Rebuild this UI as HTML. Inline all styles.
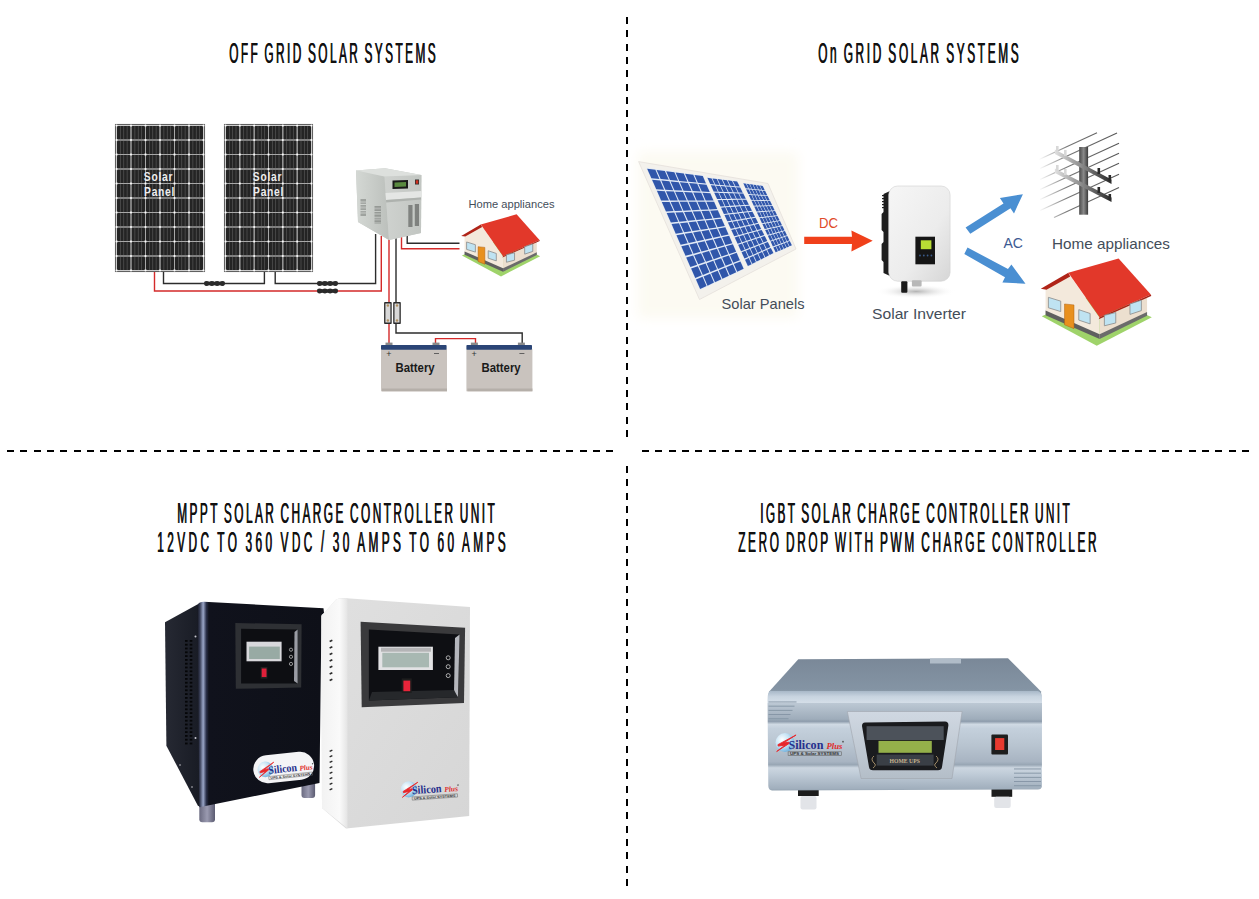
<!DOCTYPE html>
<html><head><meta charset="utf-8">
<style>
html,body{margin:0;padding:0;background:#fff;}
body{width:1259px;height:899px;overflow:hidden;position:relative;font-family:"Liberation Sans",sans-serif;}
svg{position:absolute;left:0;top:0;font-family:"Liberation Sans",sans-serif;}
</style></head><body>
<svg width="1259" height="899" viewBox="0 0 1259 899">
<g fill="#000"><rect x="626" y="17" width="2" height="7"/><rect x="626" y="30" width="2" height="7"/><rect x="626" y="44" width="2" height="7"/><rect x="626" y="57" width="2" height="7"/><rect x="626" y="70" width="2" height="7"/><rect x="626" y="84" width="2" height="7"/><rect x="626" y="97" width="2" height="7"/><rect x="626" y="110" width="2" height="7"/><rect x="626" y="124" width="2" height="7"/><rect x="626" y="137" width="2" height="7"/><rect x="626" y="150" width="2" height="7"/><rect x="626" y="164" width="2" height="7"/><rect x="626" y="177" width="2" height="7"/><rect x="626" y="190" width="2" height="7"/><rect x="626" y="203" width="2" height="7"/><rect x="626" y="217" width="2" height="7"/><rect x="626" y="230" width="2" height="7"/><rect x="626" y="243" width="2" height="7"/><rect x="626" y="257" width="2" height="7"/><rect x="626" y="270" width="2" height="7"/><rect x="626" y="283" width="2" height="7"/><rect x="626" y="297" width="2" height="7"/><rect x="626" y="310" width="2" height="7"/><rect x="626" y="323" width="2" height="7"/><rect x="626" y="337" width="2" height="7"/><rect x="626" y="350" width="2" height="7"/><rect x="626" y="363" width="2" height="7"/><rect x="626" y="377" width="2" height="7"/><rect x="626" y="390" width="2" height="7"/><rect x="626" y="403" width="2" height="7"/><rect x="626" y="417" width="2" height="7"/><rect x="626" y="430" width="2" height="7"/><rect x="626" y="466" width="2" height="7"/><rect x="626" y="479" width="2" height="7"/><rect x="626" y="493" width="2" height="7"/><rect x="626" y="506" width="2" height="7"/><rect x="626" y="519" width="2" height="7"/><rect x="626" y="533" width="2" height="7"/><rect x="626" y="546" width="2" height="7"/><rect x="626" y="559" width="2" height="7"/><rect x="626" y="573" width="2" height="7"/><rect x="626" y="586" width="2" height="7"/><rect x="626" y="599" width="2" height="7"/><rect x="626" y="613" width="2" height="7"/><rect x="626" y="626" width="2" height="7"/><rect x="626" y="639" width="2" height="7"/><rect x="626" y="652" width="2" height="7"/><rect x="626" y="666" width="2" height="7"/><rect x="626" y="679" width="2" height="7"/><rect x="626" y="692" width="2" height="7"/><rect x="626" y="706" width="2" height="7"/><rect x="626" y="719" width="2" height="7"/><rect x="626" y="732" width="2" height="7"/><rect x="626" y="746" width="2" height="7"/><rect x="626" y="759" width="2" height="7"/><rect x="626" y="772" width="2" height="7"/><rect x="626" y="786" width="2" height="7"/><rect x="626" y="799" width="2" height="7"/><rect x="626" y="812" width="2" height="7"/><rect x="626" y="826" width="2" height="7"/><rect x="626" y="839" width="2" height="7"/><rect x="626" y="852" width="2" height="7"/><rect x="626" y="866" width="2" height="7"/><rect x="626" y="879" width="2" height="7"/><rect x="7" y="450" width="7" height="2"/><rect x="20" y="450" width="7" height="2"/><rect x="34" y="450" width="7" height="2"/><rect x="47" y="450" width="7" height="2"/><rect x="60" y="450" width="7" height="2"/><rect x="74" y="450" width="7" height="2"/><rect x="87" y="450" width="7" height="2"/><rect x="100" y="450" width="7" height="2"/><rect x="114" y="450" width="7" height="2"/><rect x="127" y="450" width="7" height="2"/><rect x="140" y="450" width="7" height="2"/><rect x="154" y="450" width="7" height="2"/><rect x="167" y="450" width="7" height="2"/><rect x="180" y="450" width="7" height="2"/><rect x="193" y="450" width="7" height="2"/><rect x="207" y="450" width="7" height="2"/><rect x="220" y="450" width="7" height="2"/><rect x="233" y="450" width="7" height="2"/><rect x="247" y="450" width="7" height="2"/><rect x="260" y="450" width="7" height="2"/><rect x="273" y="450" width="7" height="2"/><rect x="287" y="450" width="7" height="2"/><rect x="300" y="450" width="7" height="2"/><rect x="313" y="450" width="7" height="2"/><rect x="327" y="450" width="7" height="2"/><rect x="340" y="450" width="7" height="2"/><rect x="353" y="450" width="7" height="2"/><rect x="367" y="450" width="7" height="2"/><rect x="380" y="450" width="7" height="2"/><rect x="393" y="450" width="7" height="2"/><rect x="407" y="450" width="7" height="2"/><rect x="420" y="450" width="7" height="2"/><rect x="433" y="450" width="7" height="2"/><rect x="447" y="450" width="7" height="2"/><rect x="460" y="450" width="7" height="2"/><rect x="473" y="450" width="7" height="2"/><rect x="487" y="450" width="7" height="2"/><rect x="500" y="450" width="7" height="2"/><rect x="513" y="450" width="7" height="2"/><rect x="526" y="450" width="7" height="2"/><rect x="540" y="450" width="7" height="2"/><rect x="553" y="450" width="7" height="2"/><rect x="566" y="450" width="7" height="2"/><rect x="580" y="450" width="7" height="2"/><rect x="593" y="450" width="7" height="2"/><rect x="606" y="450" width="7" height="2"/><rect x="642" y="450" width="7" height="2"/><rect x="655" y="450" width="7" height="2"/><rect x="669" y="450" width="7" height="2"/><rect x="682" y="450" width="7" height="2"/><rect x="695" y="450" width="7" height="2"/><rect x="709" y="450" width="7" height="2"/><rect x="722" y="450" width="7" height="2"/><rect x="735" y="450" width="7" height="2"/><rect x="749" y="450" width="7" height="2"/><rect x="762" y="450" width="7" height="2"/><rect x="775" y="450" width="7" height="2"/><rect x="789" y="450" width="7" height="2"/><rect x="802" y="450" width="7" height="2"/><rect x="815" y="450" width="7" height="2"/><rect x="829" y="450" width="7" height="2"/><rect x="842" y="450" width="7" height="2"/><rect x="855" y="450" width="7" height="2"/><rect x="869" y="450" width="7" height="2"/><rect x="882" y="450" width="7" height="2"/><rect x="895" y="450" width="7" height="2"/><rect x="909" y="450" width="7" height="2"/><rect x="922" y="450" width="7" height="2"/><rect x="935" y="450" width="7" height="2"/><rect x="949" y="450" width="7" height="2"/><rect x="962" y="450" width="7" height="2"/><rect x="975" y="450" width="7" height="2"/><rect x="989" y="450" width="7" height="2"/><rect x="1002" y="450" width="7" height="2"/><rect x="1015" y="450" width="7" height="2"/><rect x="1029" y="450" width="7" height="2"/><rect x="1042" y="450" width="7" height="2"/><rect x="1055" y="450" width="7" height="2"/><rect x="1069" y="450" width="7" height="2"/><rect x="1082" y="450" width="7" height="2"/><rect x="1095" y="450" width="7" height="2"/><rect x="1109" y="450" width="7" height="2"/><rect x="1122" y="450" width="7" height="2"/><rect x="1135" y="450" width="7" height="2"/><rect x="1149" y="450" width="7" height="2"/><rect x="1162" y="450" width="7" height="2"/><rect x="1175" y="450" width="7" height="2"/><rect x="1189" y="450" width="7" height="2"/><rect x="1202" y="450" width="7" height="2"/><rect x="1215" y="450" width="7" height="2"/><rect x="1229" y="450" width="7" height="2"/><rect x="1242" y="450" width="7" height="2"/></g>
<g transform="translate(229.00,62.7) scale(0.39,1)"><text x="0" y="0" font-size="30.4" letter-spacing="6.245" word-spacing="-4" fill="#111" stroke="#111" stroke-width="0">OFF GRID SOLAR SYSTEMS</text></g>
<g transform="translate(229.45,62.7) scale(0.39,1)"><text x="0" y="0" font-size="30.4" letter-spacing="6.245" word-spacing="-4" fill="#111" stroke="#111" stroke-width="0">OFF GRID SOLAR SYSTEMS</text></g>
<g transform="translate(818.00,62.7) scale(0.39,1)"><text x="0" y="0" font-size="30.4" letter-spacing="6.801" word-spacing="-4" fill="#111" stroke="#111" stroke-width="0">On GRID SOLAR SYSTEMS</text></g>
<g transform="translate(818.45,62.7) scale(0.39,1)"><text x="0" y="0" font-size="30.4" letter-spacing="6.801" word-spacing="-4" fill="#111" stroke="#111" stroke-width="0">On GRID SOLAR SYSTEMS</text></g>
<g transform="translate(177.00,523.2) scale(0.39,1)"><text x="0" y="0" font-size="30.4" letter-spacing="6.273" word-spacing="-4" fill="#111" stroke="#111" stroke-width="0">MPPT SOLAR CHARGE CONTROLLER UNIT</text></g>
<g transform="translate(177.45,523.2) scale(0.39,1)"><text x="0" y="0" font-size="30.4" letter-spacing="6.273" word-spacing="-4" fill="#111" stroke="#111" stroke-width="0">MPPT SOLAR CHARGE CONTROLLER UNIT</text></g>
<g transform="translate(157.00,552.2) scale(0.39,1)"><text x="0" y="0" font-size="30.4" letter-spacing="8.709" word-spacing="-4" fill="#111" stroke="#111" stroke-width="0">12VDC TO 360 VDC / 30 AMPS TO 60 AMPS</text></g>
<g transform="translate(157.45,552.2) scale(0.39,1)"><text x="0" y="0" font-size="30.4" letter-spacing="8.709" word-spacing="-4" fill="#111" stroke="#111" stroke-width="0">12VDC TO 360 VDC / 30 AMPS TO 60 AMPS</text></g>
<g transform="translate(760.00,523.2) scale(0.39,1)"><text x="0" y="0" font-size="30.4" letter-spacing="6.054" word-spacing="-4" fill="#111" stroke="#111" stroke-width="0">IGBT SOLAR CHARGE CONTROLLER UNIT</text></g>
<g transform="translate(760.45,523.2) scale(0.39,1)"><text x="0" y="0" font-size="30.4" letter-spacing="6.054" word-spacing="-4" fill="#111" stroke="#111" stroke-width="0">IGBT SOLAR CHARGE CONTROLLER UNIT</text></g>
<g transform="translate(738.00,552.2) scale(0.39,1)"><text x="0" y="0" font-size="30.4" letter-spacing="6.732" word-spacing="-4" fill="#111" stroke="#111" stroke-width="0">ZERO DROP WITH PWM CHARGE CONTROLLER</text></g>
<g transform="translate(738.45,552.2) scale(0.39,1)"><text x="0" y="0" font-size="30.4" letter-spacing="6.732" word-spacing="-4" fill="#111" stroke="#111" stroke-width="0">ZERO DROP WITH PWM CHARGE CONTROLLER</text></g>
<defs><filter id="blr" x="-20%" y="-20%" width="140%" height="140%"><feGaussianBlur stdDeviation="6"/></filter></defs><rect x="638" y="152" width="160" height="166" fill="#fcfaf2" filter="url(#blr)"/>
<polygon points="638.6,161.6 768,183.5 796,249 699.5,299.5" fill="#f3f1ec" stroke="#e4e0da" stroke-width="0.8"/>
<polygon points="646.20,167.80 703.10,175.60 744.40,269.10 700.00,290.10" fill="#e2eaf6"/>
<g fill="#3056aa"><polygon points="647.16,168.66 655.40,169.77 659.45,178.98 651.35,178.20"/><polygon points="656.63,169.93 664.87,171.03 668.76,179.87 660.66,179.09"/><polygon points="666.10,171.20 674.34,172.30 678.07,180.76 669.97,179.99"/><polygon points="675.57,172.47 683.81,173.57 687.37,181.66 679.28,180.88"/><polygon points="685.04,173.74 693.28,174.84 696.68,182.55 688.58,181.77"/><polygon points="694.51,175.01 702.75,176.11 705.99,183.45 697.89,182.67"/><polygon points="652.04,179.75 660.11,180.48 664.16,189.69 656.23,189.29"/><polygon points="661.32,180.58 669.39,181.31 673.28,190.14 665.35,189.75"/><polygon points="670.60,181.42 678.67,182.14 682.40,190.60 674.47,190.20"/><polygon points="679.88,182.25 687.95,182.97 691.52,191.06 683.59,190.66"/><polygon points="689.16,183.08 697.23,183.81 700.64,191.52 692.70,191.12"/><polygon points="698.44,183.92 706.51,184.64 709.75,191.98 701.82,191.58"/><polygon points="656.92,190.84 664.82,191.19 668.88,200.40 661.11,200.38"/><polygon points="666.01,191.24 673.92,191.58 677.81,200.42 670.04,200.40"/><polygon points="675.10,191.63 683.01,191.98 686.74,200.44 678.97,200.42"/><polygon points="684.19,192.03 692.10,192.38 695.66,200.46 687.90,200.44"/><polygon points="693.28,192.43 701.19,192.77 704.59,200.48 696.82,200.46"/><polygon points="702.37,192.82 710.28,193.17 713.52,200.50 705.75,200.48"/><polygon points="661.79,201.93 669.54,201.90 673.59,211.11 665.99,211.47"/><polygon points="670.70,201.89 678.44,201.86 682.33,210.69 674.73,211.05"/><polygon points="679.60,201.85 687.34,201.82 691.07,210.28 683.47,210.64"/><polygon points="688.50,201.81 696.24,201.78 699.81,209.86 692.21,210.22"/><polygon points="697.40,201.77 705.15,201.74 708.55,209.45 700.95,209.81"/><polygon points="706.30,201.73 714.05,201.70 717.29,209.03 709.68,209.39"/><polygon points="666.67,213.02 674.25,212.61 678.31,221.82 670.87,222.56"/><polygon points="675.38,212.54 682.96,212.13 686.86,220.97 679.42,221.71"/><polygon points="684.10,212.07 691.68,211.65 695.41,220.11 687.97,220.85"/><polygon points="692.81,211.59 700.39,211.18 703.95,219.26 696.52,220.00"/><polygon points="701.52,211.12 709.10,210.70 712.50,218.41 705.07,219.15"/><polygon points="710.23,210.64 717.81,210.23 721.05,217.56 713.62,218.30"/><polygon points="671.55,224.11 678.97,223.32 683.02,232.53 675.75,233.65"/><polygon points="680.07,223.20 687.49,222.40 691.38,231.24 684.11,232.36"/><polygon points="688.60,222.29 696.01,221.49 699.74,229.95 692.47,231.07"/><polygon points="697.12,221.37 704.54,220.58 708.10,228.66 700.83,229.78"/><polygon points="705.64,220.46 713.06,219.67 716.46,227.38 709.19,228.50"/><polygon points="714.17,219.55 721.58,218.75 724.82,226.09 717.55,227.21"/><polygon points="676.43,235.20 683.68,234.03 687.73,243.24 680.63,244.74"/><polygon points="684.76,233.85 692.01,232.68 695.90,241.51 688.80,243.01"/><polygon points="693.10,232.50 700.35,231.33 704.08,239.79 696.97,241.29"/><polygon points="701.43,231.15 708.68,229.98 712.25,238.07 705.14,239.56"/><polygon points="709.76,229.80 717.01,228.63 720.42,236.34 713.31,237.84"/><polygon points="718.10,228.46 725.35,227.28 728.59,234.62 721.48,236.12"/><polygon points="681.31,246.29 688.39,244.74 692.45,253.95 685.50,255.83"/><polygon points="689.45,244.50 696.54,242.95 700.43,251.79 693.49,253.67"/><polygon points="697.60,242.72 704.68,241.17 708.41,249.63 701.47,251.51"/><polygon points="705.74,240.93 712.83,239.38 716.39,247.47 709.45,249.35"/><polygon points="713.89,239.15 720.97,237.60 724.37,245.31 717.43,247.19"/><polygon points="722.03,237.36 729.12,235.81 732.35,243.15 725.41,245.02"/><polygon points="686.19,257.38 693.11,255.45 697.16,264.66 690.38,266.92"/><polygon points="694.14,255.16 701.06,253.23 704.95,262.06 698.17,264.32"/><polygon points="702.10,252.94 709.02,251.00 712.75,259.46 705.97,261.72"/><polygon points="710.05,250.71 716.97,248.78 720.54,256.87 713.76,259.13"/><polygon points="718.01,248.49 724.93,246.56 728.33,254.27 721.55,256.53"/><polygon points="725.96,246.27 732.88,244.34 736.12,251.67 729.34,253.93"/><polygon points="691.07,268.47 697.82,266.16 701.88,275.37 695.26,278.01"/><polygon points="698.83,265.81 705.59,263.50 709.48,272.33 702.86,274.97"/><polygon points="706.60,263.15 713.35,260.84 717.08,269.30 710.47,271.94"/><polygon points="714.36,260.50 721.12,258.18 724.68,266.27 718.07,268.91"/><polygon points="722.13,257.84 728.88,255.53 732.29,263.24 725.67,265.87"/><polygon points="729.89,255.18 736.65,252.87 739.89,260.20 733.27,262.84"/><polygon points="695.94,279.56 702.54,276.87 706.59,286.08 700.14,289.10"/><polygon points="703.52,276.46 710.11,273.77 714.00,282.61 707.55,285.63"/><polygon points="711.10,273.37 717.69,270.68 721.42,279.14 714.97,282.16"/><polygon points="718.67,270.28 725.26,267.58 728.83,275.67 722.38,278.69"/><polygon points="726.25,267.18 732.84,264.49 736.24,272.20 729.79,275.22"/><polygon points="733.82,264.09 740.42,261.40 743.66,268.73 737.21,271.75"/></g>
<polygon points="706.70,177.20 737.30,181.10 774.00,253.40 747.80,266.80" fill="#e2eaf6"/>
<g fill="#3056aa"><polygon points="707.38,177.85 711.66,178.38 714.49,184.46 710.25,184.10"/><polygon points="712.48,178.48 716.76,179.01 719.54,184.89 715.30,184.53"/><polygon points="717.57,179.11 721.85,179.64 724.58,185.32 720.34,184.96"/><polygon points="722.67,179.74 726.95,180.27 729.62,185.75 725.39,185.39"/><polygon points="727.76,180.37 732.04,180.90 734.67,186.18 730.43,185.82"/><polygon points="732.86,181.00 737.14,181.53 739.71,186.61 735.47,186.25"/><polygon points="710.80,185.30 715.03,185.62 717.86,191.71 713.67,191.55"/><polygon points="715.84,185.69 720.06,186.01 722.84,191.90 718.66,191.74"/><polygon points="720.87,186.08 725.10,186.40 727.83,192.09 723.64,191.93"/><polygon points="725.90,186.47 730.13,186.79 732.81,192.28 728.62,192.12"/><polygon points="730.94,186.86 735.17,187.19 737.79,192.46 733.61,192.31"/><polygon points="735.97,187.25 740.20,187.58 742.77,192.65 738.59,192.49"/><polygon points="714.22,192.74 718.40,192.87 721.23,198.96 717.09,199.00"/><polygon points="719.19,192.89 723.37,193.02 726.15,198.90 722.02,198.95"/><polygon points="724.17,193.04 728.34,193.17 731.07,198.85 726.94,198.90"/><polygon points="729.14,193.19 733.32,193.32 735.99,198.80 731.86,198.84"/><polygon points="734.11,193.34 738.29,193.47 740.92,198.75 736.78,198.79"/><polygon points="739.09,193.49 743.26,193.62 745.84,198.70 741.70,198.74"/><polygon points="717.64,200.19 721.77,200.11 724.60,206.20 720.51,206.45"/><polygon points="722.55,200.10 726.68,200.02 729.46,205.91 725.38,206.15"/><polygon points="727.47,200.01 731.59,199.93 734.32,205.62 730.24,205.86"/><polygon points="732.38,199.92 736.50,199.84 739.18,205.33 735.10,205.57"/><polygon points="737.29,199.83 741.41,199.75 744.04,205.03 739.96,205.28"/><polygon points="742.20,199.74 746.33,199.66 748.90,204.74 744.82,204.99"/><polygon points="721.06,207.64 725.14,207.36 727.97,213.45 723.93,213.89"/><polygon points="725.91,207.31 729.99,207.03 732.77,212.91 728.73,213.36"/><polygon points="730.76,206.98 734.84,206.70 737.57,212.38 733.53,212.83"/><polygon points="735.61,206.65 739.69,206.37 742.36,211.85 738.33,212.30"/><polygon points="740.46,206.32 744.54,206.04 747.16,211.32 743.13,211.76"/><polygon points="745.32,205.99 749.39,205.71 751.96,210.79 747.93,211.23"/><polygon points="724.48,215.09 728.51,214.61 731.34,220.69 727.36,221.34"/><polygon points="729.27,214.51 733.29,214.04 736.07,219.92 732.09,220.57"/><polygon points="734.06,213.94 738.08,213.46 740.81,219.15 736.83,219.80"/><polygon points="738.85,213.37 742.87,212.89 745.55,218.37 741.57,219.02"/><polygon points="743.64,212.80 747.66,212.32 750.29,217.60 746.31,218.25"/><polygon points="748.43,212.23 752.45,211.75 755.03,216.83 751.05,217.48"/><polygon points="727.90,222.53 731.87,221.85 734.70,227.94 730.78,228.79"/><polygon points="732.63,221.72 736.60,221.04 739.38,226.92 735.45,227.78"/><polygon points="737.36,220.91 741.33,220.23 744.06,225.91 740.13,226.76"/><polygon points="742.09,220.10 746.06,219.42 748.74,224.90 744.81,225.75"/><polygon points="746.82,219.29 750.79,218.61 753.41,223.89 749.48,224.74"/><polygon points="751.54,218.48 755.52,217.80 758.09,222.87 754.16,223.72"/><polygon points="731.32,229.98 735.24,229.10 738.07,235.18 734.20,236.24"/><polygon points="735.99,228.93 739.91,228.05 742.69,233.93 738.81,234.98"/><polygon points="740.66,227.88 744.58,226.99 747.30,232.68 743.43,233.73"/><polygon points="745.32,226.83 749.24,225.94 751.92,231.42 748.04,232.48"/><polygon points="749.99,225.78 753.91,224.89 756.54,230.17 752.66,231.22"/><polygon points="754.66,224.72 758.58,223.84 761.15,228.92 757.28,229.97"/><polygon points="734.74,237.43 738.61,236.34 741.44,242.43 737.62,243.68"/><polygon points="739.35,236.14 743.22,235.05 746.00,240.94 742.17,242.19"/><polygon points="743.95,234.84 747.82,233.76 750.55,239.44 746.73,240.70"/><polygon points="748.56,233.55 752.43,232.47 755.11,237.95 751.28,239.20"/><polygon points="753.17,232.26 757.04,231.18 759.66,236.46 755.83,237.71"/><polygon points="757.77,230.97 761.64,229.89 764.22,234.96 760.39,236.22"/><polygon points="738.16,244.87 741.98,243.59 744.81,249.67 741.04,251.13"/><polygon points="742.71,243.34 746.53,242.06 749.30,247.94 745.53,249.40"/><polygon points="747.25,241.81 751.07,240.52 753.80,246.21 750.02,247.66"/><polygon points="751.80,240.28 755.62,238.99 758.29,244.47 754.52,245.93"/><polygon points="756.34,238.75 760.16,237.46 762.79,242.74 759.01,244.20"/><polygon points="760.89,237.22 764.71,235.93 767.28,241.01 763.50,242.46"/><polygon points="741.58,252.32 745.35,250.83 748.18,256.92 744.46,258.58"/><polygon points="746.07,250.55 749.83,249.06 752.61,254.95 748.89,256.60"/><polygon points="750.55,248.78 754.32,247.29 757.04,252.97 753.32,254.63"/><polygon points="755.03,247.01 758.80,245.52 761.48,251.00 757.75,252.66"/><polygon points="759.52,245.23 763.29,243.75 765.91,249.02 762.19,250.68"/><polygon points="764.00,243.46 767.77,241.97 770.34,247.05 766.62,248.71"/><polygon points="745.00,259.77 748.72,258.08 751.55,264.17 747.88,266.03"/><polygon points="749.43,257.76 753.14,256.07 755.92,261.95 752.25,263.81"/><polygon points="753.85,255.75 757.56,254.05 760.29,259.74 756.62,261.60"/><polygon points="758.27,253.73 761.99,252.04 764.66,257.52 760.99,259.38"/><polygon points="762.69,251.72 766.41,250.03 769.03,255.31 765.36,257.17"/><polygon points="767.12,249.71 770.83,248.02 773.41,253.10 769.73,254.95"/></g>
<polygon points="742.80,182.80 762.80,185.60 792.30,245.60 775.60,252.90" fill="#e2eaf6"/>
<g fill="#3056aa"><polygon points="743.32,183.31 746.05,183.68 748.31,188.48 745.61,188.20"/><polygon points="746.65,183.76 749.38,184.14 751.60,188.82 748.90,188.54"/><polygon points="749.98,184.22 752.71,184.59 754.89,189.16 752.19,188.88"/><polygon points="753.31,184.67 756.04,185.05 758.18,189.49 755.48,189.22"/><polygon points="756.64,185.13 759.37,185.50 761.47,189.83 758.78,189.56"/><polygon points="759.97,185.59 762.70,185.96 764.77,190.17 762.07,189.89"/><polygon points="746.05,189.14 748.74,189.40 751.00,194.20 748.34,194.03"/><polygon points="749.33,189.45 752.02,189.71 754.25,194.39 751.59,194.23"/><polygon points="752.62,189.77 755.31,190.03 757.49,194.59 754.83,194.43"/><polygon points="755.90,190.08 758.59,190.34 760.74,194.79 758.08,194.63"/><polygon points="759.18,190.40 761.88,190.66 763.98,194.98 761.32,194.82"/><polygon points="762.47,190.71 765.16,190.97 767.23,195.18 764.57,195.02"/><polygon points="748.78,194.97 751.43,195.11 753.69,199.91 751.07,199.86"/><polygon points="752.01,195.14 754.67,195.28 756.89,199.97 754.27,199.92"/><polygon points="755.25,195.32 757.91,195.46 760.09,200.02 757.47,199.98"/><polygon points="758.49,195.49 761.15,195.63 763.29,200.08 760.67,200.03"/><polygon points="761.73,195.67 764.38,195.81 766.49,200.14 763.87,200.09"/><polygon points="764.97,195.84 767.62,195.98 769.69,200.19 767.07,200.15"/><polygon points="751.51,200.80 754.12,200.82 756.38,205.62 753.80,205.69"/><polygon points="754.70,200.83 757.32,200.86 759.54,205.54 756.95,205.61"/><polygon points="757.89,200.86 760.51,200.89 762.69,205.46 760.11,205.53"/><polygon points="761.08,200.90 763.70,200.93 765.85,205.37 763.26,205.44"/><polygon points="764.27,200.93 766.89,200.96 769.00,205.29 766.41,205.36"/><polygon points="767.47,200.97 770.08,201.00 772.15,205.21 769.57,205.28"/><polygon points="754.24,206.62 756.82,206.54 759.08,211.34 756.53,211.52"/><polygon points="757.38,206.52 759.96,206.43 762.18,211.11 759.64,211.30"/><polygon points="760.53,206.41 763.11,206.33 765.29,210.89 762.74,211.07"/><polygon points="763.67,206.31 766.25,206.22 768.40,210.67 765.85,210.85"/><polygon points="766.82,206.20 769.40,206.12 771.51,210.44 768.96,210.63"/><polygon points="769.97,206.10 772.55,206.01 774.62,210.22 772.07,210.40"/><polygon points="756.96,212.45 759.51,212.25 761.77,217.05 759.26,217.35"/><polygon points="760.06,212.21 762.61,212.01 764.83,216.69 762.32,216.99"/><polygon points="763.17,211.96 765.71,211.76 767.89,216.32 765.38,216.62"/><polygon points="766.27,211.72 768.81,211.51 770.95,215.96 768.44,216.26"/><polygon points="769.37,211.47 771.91,211.27 774.02,215.60 771.50,215.89"/><polygon points="772.47,211.22 775.01,211.02 777.08,215.23 774.57,215.53"/><polygon points="759.69,218.28 762.20,217.97 764.46,222.77 761.99,223.18"/><polygon points="762.75,217.90 765.25,217.58 767.48,222.26 765.00,222.67"/><polygon points="765.80,217.51 768.31,217.19 770.49,221.76 768.02,222.17"/><polygon points="768.86,217.12 771.36,216.81 773.51,221.25 771.03,221.67"/><polygon points="771.91,216.74 774.42,216.42 776.52,220.75 774.05,221.16"/><polygon points="774.97,216.35 777.47,216.03 779.54,220.25 777.07,220.66"/><polygon points="762.42,224.11 764.89,223.68 767.15,228.48 764.72,229.01"/><polygon points="765.43,223.59 767.90,223.15 770.12,227.84 767.69,228.36"/><polygon points="768.44,223.06 770.91,222.63 773.09,227.19 770.66,227.72"/><polygon points="771.45,222.53 773.92,222.10 776.06,226.55 773.63,227.08"/><polygon points="774.46,222.01 776.93,221.57 779.03,225.90 776.60,226.43"/><polygon points="777.47,221.48 779.93,221.05 782.00,225.26 779.57,225.79"/><polygon points="765.15,229.94 767.58,229.39 769.84,234.19 767.44,234.84"/><polygon points="768.12,229.27 770.54,228.73 772.77,233.41 770.37,234.05"/><polygon points="771.08,228.61 773.51,228.06 775.69,232.62 773.29,233.27"/><polygon points="774.04,227.94 776.47,227.39 778.62,231.84 776.22,232.48"/><polygon points="777.00,227.27 779.43,226.73 781.54,231.06 779.14,231.70"/><polygon points="779.97,226.61 782.40,226.06 784.47,230.27 782.07,230.91"/><polygon points="767.88,235.77 770.27,235.11 772.53,239.91 770.17,240.67"/><polygon points="770.80,234.96 773.19,234.30 775.41,238.98 773.05,239.74"/><polygon points="773.72,234.16 776.11,233.49 778.29,238.06 775.93,238.82"/><polygon points="776.63,233.35 779.02,232.69 781.17,237.13 778.81,237.89"/><polygon points="779.55,232.54 781.94,231.88 784.05,236.21 781.69,236.97"/><polygon points="782.47,231.73 784.86,231.07 786.93,235.28 784.57,236.04"/><polygon points="770.61,241.60 772.96,240.82 775.23,245.62 772.90,246.50"/><polygon points="773.48,240.65 775.84,239.87 778.06,244.56 775.74,245.43"/><polygon points="776.35,239.70 778.71,238.93 780.89,243.49 778.57,244.36"/><polygon points="779.22,238.76 781.58,237.98 783.72,242.43 781.40,243.30"/><polygon points="782.10,237.81 784.45,237.03 786.56,241.36 784.23,242.23"/><polygon points="784.97,236.86 787.32,236.09 789.39,240.30 787.07,241.17"/><polygon points="773.34,247.43 775.66,246.54 777.92,251.34 775.63,252.32"/><polygon points="776.17,246.34 778.48,245.45 780.70,250.13 778.42,251.12"/><polygon points="778.99,245.25 781.31,244.36 783.49,248.92 781.21,249.91"/><polygon points="781.82,244.16 784.13,243.27 786.28,247.72 783.99,248.71"/><polygon points="784.64,243.08 786.96,242.19 789.07,246.51 786.78,247.50"/><polygon points="787.47,241.99 789.78,241.10 791.85,245.31 789.57,246.30"/></g>
<text x="721.5" y="309" font-size="15" fill="#434d59" textLength="83" lengthAdjust="spacingAndGlyphs">Solar Panels</text>
<polygon points="804.2,236.8 852,236.8 851.4,230.5 872.7,240.8 851.4,251.5 852,244 804.2,244" fill="#f0401a"/>
<text x="819" y="227.8" font-size="14.8" fill="#e04a28" textLength="19" lengthAdjust="spacingAndGlyphs">DC</text>
<defs><linearGradient id="invB" x1="0" y1="0" x2="1" y2="1"><stop offset="0" stop-color="#f6f6f6"/><stop offset="0.6" stop-color="#ececec"/><stop offset="1" stop-color="#d6d6d6"/></linearGradient><radialGradient id="invS" cx="0.5" cy="0.5" r="0.5"><stop offset="0" stop-color="#b4b4b4"/><stop offset="1" stop-color="#ffffff" stop-opacity="0"/></radialGradient></defs>
<ellipse cx="916" cy="291.5" rx="40" ry="7" fill="url(#invS)"/>
<path d="M883.5 194 L890 191 V276 L883.5 273 V262 L881.6 260 V244 L883.5 242 V232 L881.6 230 V214 L883.5 212 Z" fill="#1e1e1e"/>
<g fill="#1e1e1e"><rect x="882" y="195" width="7" height="1.2"/><rect x="882" y="198" width="7" height="1.2"/><rect x="882" y="201" width="7" height="1.2"/><rect x="882" y="204" width="7" height="1.2"/><rect x="882" y="207" width="7" height="1.2"/></g>
<rect x="888.7" y="186" width="61.4" height="95.2" rx="9" fill="url(#invB)"/>
<rect x="888.7" y="186" width="61.4" height="95.2" rx="9" fill="none" stroke="#d0d0d0" stroke-width="0.6"/>
<rect x="915.4" y="236.7" width="19.6" height="27.6" fill="#151515"/>
<rect x="920.8" y="240.3" width="10.6" height="8.9" fill="#b8dc34"/>
<g fill="#3a5a8a"><circle cx="920" cy="255.5" r="0.9"/><circle cx="923.8" cy="255.5" r="0.9"/><circle cx="927.6" cy="255.5" r="0.9"/><circle cx="931.4" cy="255.5" r="0.9"/></g>
<rect x="901.2" y="281.2" width="6.2" height="11.6" fill="#1a1a1a" rx="1"/>
<rect x="911.9" y="280.3" width="9.7" height="6.2" fill="#b8b8b8" rx="1"/>
<text x="872" y="319.2" font-size="15" fill="#434d59" textLength="94" lengthAdjust="spacingAndGlyphs">Solar Inverter</text>
<polygon points="965.6,227.5 1003.5,203.5 999.9,198 1022.9,194.2 1014,213.4 1010.5,208.3 970.3,233.7" fill="#4a8fd2"/>
<polygon points="967.5,247.5 1008,269 1011.4,264.5 1025.5,283.7 1002.4,282.4 1005,277.2 964.3,254" fill="#4a8fd2"/>
<text x="1003.5" y="247.9" font-size="14.5" fill="#3c5a92" textLength="19.5" lengthAdjust="spacingAndGlyphs">AC</text>
<text x="1052" y="249.2" font-size="15" fill="#434d59" textLength="118" lengthAdjust="spacingAndGlyphs">Home appliances</text>
<defs><linearGradient id="wfade" gradientUnits="userSpaceOnUse" x1="1039" y1="0" x2="1119" y2="0"><stop offset="0" stop-color="#fff"/><stop offset="0.35" stop-color="#777"/><stop offset="1" stop-color="#555"/></linearGradient></defs>
<g stroke="url(#wfade)" stroke-width="1.1"><line x1="1039" y1="159.5" x2="1097" y2="132.8"/><line x1="1040" y1="168.4" x2="1117" y2="133.0"/><line x1="1040" y1="179.5" x2="1119" y2="143.2"/><line x1="1040" y1="189.5" x2="1119" y2="153.2"/><line x1="1040" y1="199.5" x2="1119" y2="163.2"/><line x1="1040" y1="210.6" x2="1119" y2="174.3"/><line x1="1054" y1="217.5" x2="1119" y2="187.6"/></g>
<defs><linearGradient id="pole" x1="0" y1="0" x2="1" y2="0"><stop offset="0" stop-color="#4a4a4a"/><stop offset="0.5" stop-color="#8a8a8a"/><stop offset="1" stop-color="#3a3a3a"/></linearGradient><linearGradient id="arm" x1="0" y1="0" x2="1" y2="0"><stop offset="0" stop-color="#e0e0e0"/><stop offset="1" stop-color="#2a2a2a"/></linearGradient></defs>
<rect x="1079.2" y="147" width="8.9" height="67.7" fill="url(#pole)"/>
<polygon points="1054.9,149.5 1111.5,179.5 1111.5,184 1054.9,154" fill="url(#arm)"/>
<polygon points="1054.9,168.5 1111.5,197.5 1111.5,202 1054.9,173" fill="url(#arm)"/>
<g fill="#2a2a2a"><rect x="1097.5" y="168" width="2.6" height="6"/><rect x="1108.5" y="175" width="2.6" height="6"/><rect x="1097.5" y="187" width="2.6" height="6"/><rect x="1108.5" y="194" width="2.6" height="6"/></g>
<polygon points="1041.75,316.31 1096.77,345.72 1151.80,317.26 1097.72,292.59" fill="#9fd36a"/>
<polygon points="1045.54,289.75 1068.31,273.24 1099.62,317.64 1099.62,338.13 1045.54,313.47" fill="#f3e9dc"/>
<polygon points="1099.62,317.26 1147.05,296.39 1147.05,314.41 1099.62,338.13" fill="#ecdfcf"/>
<polygon points="1045.54,310.62 1099.62,334.34 1099.62,339.08 1045.54,315.36" fill="#5f5f5f"/>
<polygon points="1099.62,334.34 1147.05,311.95 1147.05,315.74 1099.62,339.08" fill="#6b6b6b"/>
<polygon points="1040.80,288.80 1068.31,272.67 1070.21,276.47 1046.49,289.75" fill="#b02418"/>
<polygon points="1068.31,272.67 1118.59,258.44 1150.85,294.49 1099.62,317.26" fill="#e2382a"/>
<polygon points="1150.85,294.49 1099.62,317.26 1098.67,319.16 1151.23,296.01" fill="#a82418"/>
<polygon points="1064.52,303.98 1074.00,304.93 1074.00,328.64 1064.52,324.85" fill="#e8901e" stroke="#b06010" stroke-width="0.5"/>
<polygon points="1048.39,297.34 1060.72,301.13 1060.72,311.57 1048.39,307.77" fill="#bfe3f2" stroke="#8a8a8a" stroke-width="0.8"/>
<polygon points="1078.75,309.67 1090.13,313.47 1090.13,323.90 1078.75,320.11" fill="#bfe3f2" stroke="#8a8a8a" stroke-width="0.8"/>
<polygon points="1104.36,315.36 1115.75,312.52 1115.75,322.95 1104.36,325.80" fill="#bfe3f2" stroke="#8a8a8a" stroke-width="0.8"/>
<polygon points="1129.98,303.98 1141.36,300.18 1141.36,310.62 1129.98,314.41" fill="#bfe3f2" stroke="#8a8a8a" stroke-width="0.8"/>
<g fill="#d8d8d8"><rect x="1056" y="146" width="2.6" height="6"/><rect x="1064" y="150" width="2.6" height="6"/><rect x="1056" y="165" width="2.6" height="6"/><rect x="1064" y="169" width="2.6" height="6"/></g>
<defs><linearGradient id="bkS" x1="0" y1="0" x2="1" y2="0"><stop offset="0" stop-color="#262933"/><stop offset="1" stop-color="#181b24"/></linearGradient><linearGradient id="bkF" x1="0" y1="0" x2="1" y2="0"><stop offset="0" stop-color="#161824"/><stop offset="0.02" stop-color="#3a4058"/><stop offset="0.045" stop-color="#9aa6c8"/><stop offset="0.07" stop-color="#2a3048"/><stop offset="0.09" stop-color="#10121c"/><stop offset="1" stop-color="#0e1018"/></linearGradient><linearGradient id="ft" x1="0" y1="0" x2="1" y2="0"><stop offset="0" stop-color="#6a6a80"/><stop offset="0.5" stop-color="#9a9ab0"/><stop offset="1" stop-color="#5a5a70"/></linearGradient></defs>
<rect x="199.3" y="800" width="15.7" height="22.2" rx="3" fill="url(#ft)"/>
<rect x="301.5" y="780" width="13.6" height="18" rx="3" fill="url(#ft)"/>
<polygon points="165,622.3 197.3,604.5 201,604 201,807.2 197.9,805.8 166.4,745.7" fill="url(#bkS)"/>
<path d="M197.5 605 Q199 601.7 204 601.7 L323.5 608.3 L324 613 L321.5 615 L319.5 782.9 L199.3 807.2 Z" fill="url(#bkF)"/>
<g fill="#050608"><rect x="185" y="640.0" width="2.6" height="1.8"/><rect x="189.7" y="640.0" width="2.6" height="1.8"/><rect x="185" y="643.8" width="2.6" height="1.8"/><rect x="189.7" y="643.8" width="2.6" height="1.8"/><rect x="185" y="647.6" width="2.6" height="1.8"/><rect x="189.7" y="647.6" width="2.6" height="1.8"/><rect x="185" y="651.4" width="2.6" height="1.8"/><rect x="189.7" y="651.4" width="2.6" height="1.8"/><rect x="185" y="655.2" width="2.6" height="1.8"/><rect x="189.7" y="655.2" width="2.6" height="1.8"/><rect x="185" y="659.0" width="2.6" height="1.8"/><rect x="189.7" y="659.0" width="2.6" height="1.8"/><rect x="185" y="662.8" width="2.6" height="1.8"/><rect x="189.7" y="662.8" width="2.6" height="1.8"/><rect x="185" y="666.6" width="2.6" height="1.8"/><rect x="189.7" y="666.6" width="2.6" height="1.8"/><rect x="185" y="670.4" width="2.6" height="1.8"/><rect x="189.7" y="670.4" width="2.6" height="1.8"/><rect x="185" y="674.2" width="2.6" height="1.8"/><rect x="189.7" y="674.2" width="2.6" height="1.8"/><rect x="185" y="678.0" width="2.6" height="1.8"/><rect x="189.7" y="678.0" width="2.6" height="1.8"/><rect x="185" y="681.8" width="2.6" height="1.8"/><rect x="189.7" y="681.8" width="2.6" height="1.8"/><rect x="185" y="685.6" width="2.6" height="1.8"/><rect x="189.7" y="685.6" width="2.6" height="1.8"/><rect x="185" y="689.4" width="2.6" height="1.8"/><rect x="189.7" y="689.4" width="2.6" height="1.8"/><rect x="185" y="693.2" width="2.6" height="1.8"/><rect x="189.7" y="693.2" width="2.6" height="1.8"/><rect x="185" y="697.0" width="2.6" height="1.8"/><rect x="189.7" y="697.0" width="2.6" height="1.8"/><rect x="185" y="700.8" width="2.6" height="1.8"/><rect x="189.7" y="700.8" width="2.6" height="1.8"/><rect x="185" y="704.6" width="2.6" height="1.8"/><rect x="189.7" y="704.6" width="2.6" height="1.8"/><rect x="185" y="708.4" width="2.6" height="1.8"/><rect x="189.7" y="708.4" width="2.6" height="1.8"/><rect x="185" y="712.2" width="2.6" height="1.8"/><rect x="189.7" y="712.2" width="2.6" height="1.8"/><rect x="185" y="716.0" width="2.6" height="1.8"/><rect x="189.7" y="716.0" width="2.6" height="1.8"/><rect x="185" y="719.8" width="2.6" height="1.8"/><rect x="189.7" y="719.8" width="2.6" height="1.8"/><rect x="185" y="723.6" width="2.6" height="1.8"/><rect x="189.7" y="723.6" width="2.6" height="1.8"/><rect x="185" y="727.4" width="2.6" height="1.8"/><rect x="189.7" y="727.4" width="2.6" height="1.8"/><rect x="185" y="731.2" width="2.6" height="1.8"/><rect x="189.7" y="731.2" width="2.6" height="1.8"/><rect x="185" y="735.0" width="2.6" height="1.8"/><rect x="189.7" y="735.0" width="2.6" height="1.8"/><rect x="185" y="738.8" width="2.6" height="1.8"/><rect x="189.7" y="738.8" width="2.6" height="1.8"/><rect x="185" y="742.6" width="2.6" height="1.8"/><rect x="189.7" y="742.6" width="2.6" height="1.8"/></g>
<g fill="#c8c8d0"><circle cx="195.5" cy="636.5" r="1"/><circle cx="195.5" cy="738" r="1"/><circle cx="180" cy="765" r="0.8"/><circle cx="192" cy="787" r="0.8"/></g>
<polygon points="235.3,623 301.6,624.3 301.2,687.5 235.8,688.8" fill="#2e3034"/>
<polygon points="241.1,628.8 297.6,629.5 297.6,683.5 241.1,683.5" fill="#0d0e12"/>
<polygon points="294.5,632 297.6,629.5 297.6,683.5 294,681" fill="#9a9ca4"/>
<rect x="246.5" y="641.7" width="35.1" height="19.6" fill="#d8d8dc"/>
<rect x="249.1" y="646.6" width="30.7" height="12.4" fill="#98aaa4"/>
<rect x="260.7" y="667" width="6.7" height="11.6" fill="#222"/><rect x="261.7" y="668.5" width="4.8" height="8.5" fill="#e0203a"/>
<g fill="none" stroke="#ccc" stroke-width="0.7"><circle cx="291" cy="649.7" r="1.6"/><circle cx="291" cy="656.8" r="1.6"/><circle cx="291" cy="663.9" r="1.6"/></g>
<g transform="rotate(-6 283.7 767.5)"><rect x="253.2" y="753.5" width="61" height="28" rx="14" fill="#f4f4f6"/></g>
<g transform="translate(265.5,770.5) rotate(-6) scale(0.82)"><defs><radialGradient id="glb" cx="0.35" cy="0.35" r="0.7"><stop offset="0" stop-color="#ffffff"/><stop offset="0.55" stop-color="#c4e2f4"/><stop offset="1" stop-color="#6aaedc"/></radialGradient></defs><circle cx="0" cy="-1.4" r="9.5" fill="url(#glb)"/><polygon points="11.05,-9.01 -7.06,0.65 -6.74,2.11 -0.07,1.15 -8.33,7.51 4.06,-0.43 3.74,-1.9 -1.34,-1.07" fill="#e8262a" stroke="#e8262a" stroke-width="0.9" stroke-linejoin="round"/><text x="3.4" y="4.6" font-family="Liberation Serif" font-weight="bold" font-size="13.5" fill="#26308c" textLength="35" lengthAdjust="spacingAndGlyphs">Silicon</text><text x="41.5" y="4.6" font-family="Liberation Serif" font-style="italic" font-weight="bold" font-size="8.8" fill="#e02a2a" textLength="16" lengthAdjust="spacingAndGlyphs">Plus</text><circle cx="58" cy="-2.3" r="0.9" fill="#555"/><rect x="3.1" y="7.8" width="53.4" height="3.8" fill="none" stroke="#666" stroke-width="0.6"/><text x="5" y="11" font-size="3.6" font-weight="bold" fill="#333" textLength="49" lengthAdjust="spacingAndGlyphs">UPS &amp; Solar SYSTEMS</text></g>
<defs><linearGradient id="whS" x1="0" y1="0" x2="1" y2="0"><stop offset="0" stop-color="#f2f2f2"/><stop offset="0.7" stop-color="#fafafa"/><stop offset="1" stop-color="#e4e4e4"/></linearGradient><linearGradient id="whF" x1="0" y1="0" x2="1" y2="1"><stop offset="0" stop-color="#e0e0e0"/><stop offset="1" stop-color="#d6d6d6"/></linearGradient></defs>
<path d="M321.5 616 L336 599.5 Q338.5 598 343 598 L470 607 L469.2 816 L346 828.5 L322 808 Z" fill="url(#whF)"/>
<path d="M321.5 616 L336 599.5 Q338.5 598 347.5 598.2 L347.5 828.5 L322 808 Z" fill="url(#whS)"/>
<g fill="#2a2a2a"><rect x="329.5" y="640.0" width="3" height="1.6" transform="rotate(-25 331 640.8)"/><rect x="329.5" y="646.5" width="3" height="1.6" transform="rotate(-25 331 647.3)"/><rect x="329.5" y="653.0" width="3" height="1.6" transform="rotate(-25 331 653.8)"/><rect x="329.5" y="659.5" width="3" height="1.6" transform="rotate(-25 331 660.3)"/><rect x="329.5" y="666.0" width="3" height="1.6" transform="rotate(-25 331 666.8)"/><rect x="329.5" y="672.5" width="3" height="1.6" transform="rotate(-25 331 673.3)"/><rect x="329.5" y="679.0" width="3" height="1.6" transform="rotate(-25 331 679.8)"/><rect x="329.5" y="750.0" width="3" height="1.4" transform="rotate(-25 331 750.7)"/><rect x="329.5" y="755.5" width="3" height="1.4" transform="rotate(-25 331 756.2)"/><rect x="329.5" y="761.0" width="3" height="1.4" transform="rotate(-25 331 761.7)"/><rect x="329.5" y="766.5" width="3" height="1.4" transform="rotate(-25 331 767.2)"/><rect x="329.5" y="772.0" width="3" height="1.4" transform="rotate(-25 331 772.7)"/><rect x="329.5" y="777.5" width="3" height="1.4" transform="rotate(-25 331 778.2)"/><rect x="329.5" y="783.0" width="3" height="1.4" transform="rotate(-25 331 783.7)"/><rect x="329.5" y="788.5" width="3" height="1.4" transform="rotate(-25 331 789.2)"/></g>
<polygon points="360.6,621.7 465.1,627.8 464,702.9 361.7,707.3" fill="#3a3a3c"/>
<polygon points="368.9,629.5 459.6,634.5 457.9,697.3 368.9,700.6" fill="#0e0f13"/>
<polygon points="455,638 459.6,634.5 457.9,697.3 454,693" fill="#b4b6bc"/>
<polygon points="372,692 454,690 457.9,697.3 368.9,700.6" fill="#26282b"/>
<rect x="378.4" y="646.7" width="54.5" height="23.3" fill="#e2e2e4"/>
<rect x="382.3" y="652.8" width="46.7" height="14.5" fill="#a8b8b2"/>
<rect x="381" y="647.7" width="50" height="4" fill="#2a2a2a" opacity="0.25"/>
<rect x="401.7" y="678.4" width="10" height="14.5" fill="#1e1e1e"/><rect x="403.4" y="680.6" width="6.8" height="10.6" fill="#e8243a"/>
<g fill="none" stroke="#d0d0d0" stroke-width="0.8"><circle cx="448.2" cy="657.8" r="2"/><circle cx="448.2" cy="666.7" r="2"/><circle cx="448.2" cy="675.6" r="2"/></g>
<g transform="translate(409,790.5) rotate(-4) scale(0.85)"><defs><radialGradient id="glb" cx="0.35" cy="0.35" r="0.7"><stop offset="0" stop-color="#ffffff"/><stop offset="0.55" stop-color="#c4e2f4"/><stop offset="1" stop-color="#6aaedc"/></radialGradient></defs><circle cx="0" cy="-1.4" r="9.5" fill="url(#glb)"/><polygon points="11.05,-9.01 -7.06,0.65 -6.74,2.11 -0.07,1.15 -8.33,7.51 4.06,-0.43 3.74,-1.9 -1.34,-1.07" fill="#e8262a" stroke="#e8262a" stroke-width="0.9" stroke-linejoin="round"/><text x="3.4" y="4.6" font-family="Liberation Serif" font-weight="bold" font-size="13.5" fill="#26308c" textLength="35" lengthAdjust="spacingAndGlyphs">Silicon</text><text x="41.5" y="4.6" font-family="Liberation Serif" font-style="italic" font-weight="bold" font-size="8.8" fill="#e02a2a" textLength="16" lengthAdjust="spacingAndGlyphs">Plus</text><circle cx="58" cy="-2.3" r="0.9" fill="#555"/><rect x="3.1" y="7.8" width="53.4" height="3.8" fill="none" stroke="#666" stroke-width="0.6"/><text x="5" y="11" font-size="3.6" font-weight="bold" fill="#333" textLength="49" lengthAdjust="spacingAndGlyphs">UPS &amp; Solar SYSTEMS</text></g>
<defs><linearGradient id="upT" x1="0" y1="0" x2="0" y2="1"><stop offset="0" stop-color="#7a8898"/><stop offset="0.8" stop-color="#8494a4"/><stop offset="1" stop-color="#9aa8b6"/></linearGradient><linearGradient id="upF" x1="0" y1="0" x2="0" y2="1"><stop offset="0" stop-color="#a8b8c8"/><stop offset="0.056" stop-color="#c8d4e0"/><stop offset="0.117" stop-color="#d4dee8"/><stop offset="0.122" stop-color="#bcc8d4"/><stop offset="0.284" stop-color="#9eacba"/><stop offset="0.305" stop-color="#8e9cac"/><stop offset="0.335" stop-color="#d0dae4"/><stop offset="0.376" stop-color="#c4d0dc"/><stop offset="0.548" stop-color="#b8c4d0"/><stop offset="0.71" stop-color="#a8b4c2"/><stop offset="0.741" stop-color="#98a6b4"/><stop offset="0.772" stop-color="#ccd6e0"/><stop offset="0.832" stop-color="#c0ccd8"/><stop offset="0.985" stop-color="#a0aebc"/><stop offset="1" stop-color="#90a0ae"/></linearGradient><linearGradient id="upB" x1="0" y1="0" x2="0" y2="1"><stop offset="0" stop-color="#d0d8e2"/><stop offset="1" stop-color="#b4bec8"/></linearGradient></defs>
<rect x="798" y="788" width="20.7" height="8" fill="#1c1c1c"/><rect x="800.5" y="796" width="16" height="13.5" rx="2" fill="#e2e4e8"/>
<rect x="991.5" y="787" width="20.7" height="9.8" fill="#1c1c1c"/><rect x="994.2" y="796.8" width="16.5" height="11.1" rx="2" fill="#e2e4e8"/>
<polygon points="798.3,659.2 1008,658.3 1041,691.5 1041.5,697 768,697 769.2,691.5" fill="url(#upT)"/>
<rect x="930" y="658.5" width="31" height="5" fill="#b0bcc8"/>
<path d="M769.5 691 L1038 691 Q1042 692.5 1042 698 L1041.9 787 Q1041 789.5 1038 789.5 L772 790.5 Q768.5 790 768.3 786 L767.5 700 Q767.5 692 770 691 Z" fill="url(#upF)"/>
<g fill="#8494a4"><rect x="768.5" y="701.5" width="28" height="0.9"/><rect x="768.5" y="705.7" width="26" height="0.9"/><rect x="768.5" y="709.9" width="24" height="0.9"/><rect x="768.5" y="714.1" width="22" height="0.9"/><rect x="768.5" y="718.3" width="20" height="0.9"/><rect x="1014" y="768.5" width="27" height="0.9"/><rect x="1014" y="772.7" width="27" height="0.9"/><rect x="1014" y="776.9" width="27" height="0.9"/><rect x="1014" y="781.1" width="27" height="0.9"/><rect x="1014" y="785.3" width="27" height="0.9"/></g>
<polygon points="847.3,711.5 962.1,711.5 952,778.5 861.1,778.5" fill="url(#upB)" stroke="#a0a4ac" stroke-width="0.6"/>
<path d="M865 722.5 L945 721.6 Q949 722 948.3 726 L942 767 Q941.5 770.2 938 770.2 L873 770.2 Q869.5 770.2 869 767 L862 726 Q862 722.5 865 722.5 Z" fill="#1a1b1e"/>
<rect x="866.6" y="726.2" width="77.1" height="13.8" fill="#4c525a"/>
<rect x="878.5" y="740.9" width="53.3" height="11.9" fill="#94b04a"/>
<rect x="876.7" y="754.6" width="56.9" height="11" fill="#3a3f46"/>
<text x="889.6" y="762.8" font-family="Liberation Serif" font-weight="bold" font-size="6.8" fill="#c8b48e" textLength="30.2" lengthAdjust="spacingAndGlyphs">HOME UPS</text>
<g fill="none" stroke="#b09870" stroke-width="0.9"><path d="M874 756 q-4 3 0 7 q3 2 -1 5"/><path d="M936 756 q4 3 0 7 q-3 2 1 5"/></g>
<rect x="991.4" y="734.4" width="16.6" height="20.2" rx="1" fill="#1e1e1e"/><rect x="995.1" y="738.1" width="9.2" height="11.9" fill="#e83a30"/>
<g transform="translate(785,744) rotate(0) scale(1.0)"><defs><radialGradient id="glb" cx="0.35" cy="0.35" r="0.7"><stop offset="0" stop-color="#ffffff"/><stop offset="0.55" stop-color="#c4e2f4"/><stop offset="1" stop-color="#6aaedc"/></radialGradient></defs><circle cx="0" cy="-1.4" r="9.5" fill="url(#glb)"/><polygon points="11.05,-9.01 -7.06,0.65 -6.74,2.11 -0.07,1.15 -8.33,7.51 4.06,-0.43 3.74,-1.9 -1.34,-1.07" fill="#e8262a" stroke="#e8262a" stroke-width="0.9" stroke-linejoin="round"/><text x="3.4" y="4.6" font-family="Liberation Serif" font-weight="bold" font-size="13.5" fill="#26308c" textLength="35" lengthAdjust="spacingAndGlyphs">Silicon</text><text x="41.5" y="4.6" font-family="Liberation Serif" font-style="italic" font-weight="bold" font-size="8.8" fill="#e02a2a" textLength="16" lengthAdjust="spacingAndGlyphs">Plus</text><circle cx="58" cy="-2.3" r="0.9" fill="#555"/><rect x="3.1" y="7.8" width="53.4" height="3.8" fill="none" stroke="#666" stroke-width="0.6"/><text x="5" y="11" font-size="3.6" font-weight="bold" fill="#333" textLength="49" lengthAdjust="spacingAndGlyphs">UPS &amp; Solar SYSTEMS</text></g>
<rect x="115.6" y="124.6" width="88.8" height="146.8" fill="#f0f0f0" stroke="#606060" stroke-width="1.3"/>
<rect x="117" y="126" width="86" height="144" fill="#8a8a8a"/>
<g fill="#242424"><rect x="117.00" y="126.00" width="13.50" height="13.50" rx="1.2"/><rect x="131.50" y="126.00" width="13.50" height="13.50" rx="1.2"/><rect x="146.00" y="126.00" width="13.50" height="13.50" rx="1.2"/><rect x="160.50" y="126.00" width="13.50" height="13.50" rx="1.2"/><rect x="175.00" y="126.00" width="13.50" height="13.50" rx="1.2"/><rect x="189.50" y="126.00" width="13.50" height="13.50" rx="1.2"/><rect x="117.00" y="140.50" width="13.50" height="13.50" rx="1.2"/><rect x="131.50" y="140.50" width="13.50" height="13.50" rx="1.2"/><rect x="146.00" y="140.50" width="13.50" height="13.50" rx="1.2"/><rect x="160.50" y="140.50" width="13.50" height="13.50" rx="1.2"/><rect x="175.00" y="140.50" width="13.50" height="13.50" rx="1.2"/><rect x="189.50" y="140.50" width="13.50" height="13.50" rx="1.2"/><rect x="117.00" y="155.00" width="13.50" height="13.50" rx="1.2"/><rect x="131.50" y="155.00" width="13.50" height="13.50" rx="1.2"/><rect x="146.00" y="155.00" width="13.50" height="13.50" rx="1.2"/><rect x="160.50" y="155.00" width="13.50" height="13.50" rx="1.2"/><rect x="175.00" y="155.00" width="13.50" height="13.50" rx="1.2"/><rect x="189.50" y="155.00" width="13.50" height="13.50" rx="1.2"/><rect x="117.00" y="169.50" width="13.50" height="13.50" rx="1.2"/><rect x="131.50" y="169.50" width="13.50" height="13.50" rx="1.2"/><rect x="146.00" y="169.50" width="13.50" height="13.50" rx="1.2"/><rect x="160.50" y="169.50" width="13.50" height="13.50" rx="1.2"/><rect x="175.00" y="169.50" width="13.50" height="13.50" rx="1.2"/><rect x="189.50" y="169.50" width="13.50" height="13.50" rx="1.2"/><rect x="117.00" y="184.00" width="13.50" height="13.50" rx="1.2"/><rect x="131.50" y="184.00" width="13.50" height="13.50" rx="1.2"/><rect x="146.00" y="184.00" width="13.50" height="13.50" rx="1.2"/><rect x="160.50" y="184.00" width="13.50" height="13.50" rx="1.2"/><rect x="175.00" y="184.00" width="13.50" height="13.50" rx="1.2"/><rect x="189.50" y="184.00" width="13.50" height="13.50" rx="1.2"/><rect x="117.00" y="198.50" width="13.50" height="13.50" rx="1.2"/><rect x="131.50" y="198.50" width="13.50" height="13.50" rx="1.2"/><rect x="146.00" y="198.50" width="13.50" height="13.50" rx="1.2"/><rect x="160.50" y="198.50" width="13.50" height="13.50" rx="1.2"/><rect x="175.00" y="198.50" width="13.50" height="13.50" rx="1.2"/><rect x="189.50" y="198.50" width="13.50" height="13.50" rx="1.2"/><rect x="117.00" y="213.00" width="13.50" height="13.50" rx="1.2"/><rect x="131.50" y="213.00" width="13.50" height="13.50" rx="1.2"/><rect x="146.00" y="213.00" width="13.50" height="13.50" rx="1.2"/><rect x="160.50" y="213.00" width="13.50" height="13.50" rx="1.2"/><rect x="175.00" y="213.00" width="13.50" height="13.50" rx="1.2"/><rect x="189.50" y="213.00" width="13.50" height="13.50" rx="1.2"/><rect x="117.00" y="227.50" width="13.50" height="13.50" rx="1.2"/><rect x="131.50" y="227.50" width="13.50" height="13.50" rx="1.2"/><rect x="146.00" y="227.50" width="13.50" height="13.50" rx="1.2"/><rect x="160.50" y="227.50" width="13.50" height="13.50" rx="1.2"/><rect x="175.00" y="227.50" width="13.50" height="13.50" rx="1.2"/><rect x="189.50" y="227.50" width="13.50" height="13.50" rx="1.2"/><rect x="117.00" y="242.00" width="13.50" height="13.50" rx="1.2"/><rect x="131.50" y="242.00" width="13.50" height="13.50" rx="1.2"/><rect x="146.00" y="242.00" width="13.50" height="13.50" rx="1.2"/><rect x="160.50" y="242.00" width="13.50" height="13.50" rx="1.2"/><rect x="175.00" y="242.00" width="13.50" height="13.50" rx="1.2"/><rect x="189.50" y="242.00" width="13.50" height="13.50" rx="1.2"/><rect x="117.00" y="256.50" width="13.50" height="13.50" rx="1.2"/><rect x="131.50" y="256.50" width="13.50" height="13.50" rx="1.2"/><rect x="146.00" y="256.50" width="13.50" height="13.50" rx="1.2"/><rect x="160.50" y="256.50" width="13.50" height="13.50" rx="1.2"/><rect x="175.00" y="256.50" width="13.50" height="13.50" rx="1.2"/><rect x="189.50" y="256.50" width="13.50" height="13.50" rx="1.2"/></g>
<g fill="#565656"><rect x="120.03" y="126" width="0.7" height="144"/><rect x="123.40" y="126" width="0.7" height="144"/><rect x="126.78" y="126" width="0.7" height="144"/><rect x="134.53" y="126" width="0.7" height="144"/><rect x="137.90" y="126" width="0.7" height="144"/><rect x="141.28" y="126" width="0.7" height="144"/><rect x="149.03" y="126" width="0.7" height="144"/><rect x="152.40" y="126" width="0.7" height="144"/><rect x="155.78" y="126" width="0.7" height="144"/><rect x="163.53" y="126" width="0.7" height="144"/><rect x="166.90" y="126" width="0.7" height="144"/><rect x="170.28" y="126" width="0.7" height="144"/><rect x="178.03" y="126" width="0.7" height="144"/><rect x="181.40" y="126" width="0.7" height="144"/><rect x="184.78" y="126" width="0.7" height="144"/><rect x="192.53" y="126" width="0.7" height="144"/><rect x="195.90" y="126" width="0.7" height="144"/><rect x="199.28" y="126" width="0.7" height="144"/></g>
<g fill="#a8a8a8"><rect x="117" y="139.50" width="86" height="1.0"/><rect x="117" y="154.00" width="86" height="1.0"/><rect x="117" y="168.50" width="86" height="1.0"/><rect x="117" y="183.00" width="86" height="1.0"/><rect x="117" y="197.50" width="86" height="1.0"/><rect x="117" y="212.00" width="86" height="1.0"/><rect x="117" y="226.50" width="86" height="1.0"/><rect x="117" y="241.00" width="86" height="1.0"/><rect x="117" y="255.50" width="86" height="1.0"/><rect x="130.50" y="126" width="1.0" height="144"/><rect x="145.00" y="126" width="1.0" height="144"/><rect x="159.50" y="126" width="1.0" height="144"/><rect x="174.00" y="126" width="1.0" height="144"/><rect x="188.50" y="126" width="1.0" height="144"/></g>
<g fill="#ffffff"><circle cx="116.50" cy="125.50" r="1"/><circle cx="131.00" cy="125.50" r="1"/><circle cx="145.50" cy="125.50" r="1"/><circle cx="160.00" cy="125.50" r="1"/><circle cx="174.50" cy="125.50" r="1"/><circle cx="189.00" cy="125.50" r="1"/><circle cx="203.50" cy="125.50" r="1"/><circle cx="116.50" cy="140.00" r="1"/><circle cx="131.00" cy="140.00" r="1"/><circle cx="145.50" cy="140.00" r="1"/><circle cx="160.00" cy="140.00" r="1"/><circle cx="174.50" cy="140.00" r="1"/><circle cx="189.00" cy="140.00" r="1"/><circle cx="203.50" cy="140.00" r="1"/><circle cx="116.50" cy="154.50" r="1"/><circle cx="131.00" cy="154.50" r="1"/><circle cx="145.50" cy="154.50" r="1"/><circle cx="160.00" cy="154.50" r="1"/><circle cx="174.50" cy="154.50" r="1"/><circle cx="189.00" cy="154.50" r="1"/><circle cx="203.50" cy="154.50" r="1"/><circle cx="116.50" cy="169.00" r="1"/><circle cx="131.00" cy="169.00" r="1"/><circle cx="145.50" cy="169.00" r="1"/><circle cx="160.00" cy="169.00" r="1"/><circle cx="174.50" cy="169.00" r="1"/><circle cx="189.00" cy="169.00" r="1"/><circle cx="203.50" cy="169.00" r="1"/><circle cx="116.50" cy="183.50" r="1"/><circle cx="131.00" cy="183.50" r="1"/><circle cx="145.50" cy="183.50" r="1"/><circle cx="160.00" cy="183.50" r="1"/><circle cx="174.50" cy="183.50" r="1"/><circle cx="189.00" cy="183.50" r="1"/><circle cx="203.50" cy="183.50" r="1"/><circle cx="116.50" cy="198.00" r="1"/><circle cx="131.00" cy="198.00" r="1"/><circle cx="145.50" cy="198.00" r="1"/><circle cx="160.00" cy="198.00" r="1"/><circle cx="174.50" cy="198.00" r="1"/><circle cx="189.00" cy="198.00" r="1"/><circle cx="203.50" cy="198.00" r="1"/><circle cx="116.50" cy="212.50" r="1"/><circle cx="131.00" cy="212.50" r="1"/><circle cx="145.50" cy="212.50" r="1"/><circle cx="160.00" cy="212.50" r="1"/><circle cx="174.50" cy="212.50" r="1"/><circle cx="189.00" cy="212.50" r="1"/><circle cx="203.50" cy="212.50" r="1"/><circle cx="116.50" cy="227.00" r="1"/><circle cx="131.00" cy="227.00" r="1"/><circle cx="145.50" cy="227.00" r="1"/><circle cx="160.00" cy="227.00" r="1"/><circle cx="174.50" cy="227.00" r="1"/><circle cx="189.00" cy="227.00" r="1"/><circle cx="203.50" cy="227.00" r="1"/><circle cx="116.50" cy="241.50" r="1"/><circle cx="131.00" cy="241.50" r="1"/><circle cx="145.50" cy="241.50" r="1"/><circle cx="160.00" cy="241.50" r="1"/><circle cx="174.50" cy="241.50" r="1"/><circle cx="189.00" cy="241.50" r="1"/><circle cx="203.50" cy="241.50" r="1"/><circle cx="116.50" cy="256.00" r="1"/><circle cx="131.00" cy="256.00" r="1"/><circle cx="145.50" cy="256.00" r="1"/><circle cx="160.00" cy="256.00" r="1"/><circle cx="174.50" cy="256.00" r="1"/><circle cx="189.00" cy="256.00" r="1"/><circle cx="203.50" cy="256.00" r="1"/><circle cx="116.50" cy="270.50" r="1"/><circle cx="131.00" cy="270.50" r="1"/><circle cx="145.50" cy="270.50" r="1"/><circle cx="160.00" cy="270.50" r="1"/><circle cx="174.50" cy="270.50" r="1"/><circle cx="189.00" cy="270.50" r="1"/><circle cx="203.50" cy="270.50" r="1"/></g>
<rect x="224.6" y="124.6" width="87.8" height="146.8" fill="#f0f0f0" stroke="#606060" stroke-width="1.3"/>
<rect x="226" y="126" width="85" height="144" fill="#8a8a8a"/>
<g fill="#242424"><rect x="226.00" y="126.00" width="13.33" height="13.50" rx="1.2"/><rect x="240.33" y="126.00" width="13.33" height="13.50" rx="1.2"/><rect x="254.67" y="126.00" width="13.33" height="13.50" rx="1.2"/><rect x="269.00" y="126.00" width="13.33" height="13.50" rx="1.2"/><rect x="283.33" y="126.00" width="13.33" height="13.50" rx="1.2"/><rect x="297.67" y="126.00" width="13.33" height="13.50" rx="1.2"/><rect x="226.00" y="140.50" width="13.33" height="13.50" rx="1.2"/><rect x="240.33" y="140.50" width="13.33" height="13.50" rx="1.2"/><rect x="254.67" y="140.50" width="13.33" height="13.50" rx="1.2"/><rect x="269.00" y="140.50" width="13.33" height="13.50" rx="1.2"/><rect x="283.33" y="140.50" width="13.33" height="13.50" rx="1.2"/><rect x="297.67" y="140.50" width="13.33" height="13.50" rx="1.2"/><rect x="226.00" y="155.00" width="13.33" height="13.50" rx="1.2"/><rect x="240.33" y="155.00" width="13.33" height="13.50" rx="1.2"/><rect x="254.67" y="155.00" width="13.33" height="13.50" rx="1.2"/><rect x="269.00" y="155.00" width="13.33" height="13.50" rx="1.2"/><rect x="283.33" y="155.00" width="13.33" height="13.50" rx="1.2"/><rect x="297.67" y="155.00" width="13.33" height="13.50" rx="1.2"/><rect x="226.00" y="169.50" width="13.33" height="13.50" rx="1.2"/><rect x="240.33" y="169.50" width="13.33" height="13.50" rx="1.2"/><rect x="254.67" y="169.50" width="13.33" height="13.50" rx="1.2"/><rect x="269.00" y="169.50" width="13.33" height="13.50" rx="1.2"/><rect x="283.33" y="169.50" width="13.33" height="13.50" rx="1.2"/><rect x="297.67" y="169.50" width="13.33" height="13.50" rx="1.2"/><rect x="226.00" y="184.00" width="13.33" height="13.50" rx="1.2"/><rect x="240.33" y="184.00" width="13.33" height="13.50" rx="1.2"/><rect x="254.67" y="184.00" width="13.33" height="13.50" rx="1.2"/><rect x="269.00" y="184.00" width="13.33" height="13.50" rx="1.2"/><rect x="283.33" y="184.00" width="13.33" height="13.50" rx="1.2"/><rect x="297.67" y="184.00" width="13.33" height="13.50" rx="1.2"/><rect x="226.00" y="198.50" width="13.33" height="13.50" rx="1.2"/><rect x="240.33" y="198.50" width="13.33" height="13.50" rx="1.2"/><rect x="254.67" y="198.50" width="13.33" height="13.50" rx="1.2"/><rect x="269.00" y="198.50" width="13.33" height="13.50" rx="1.2"/><rect x="283.33" y="198.50" width="13.33" height="13.50" rx="1.2"/><rect x="297.67" y="198.50" width="13.33" height="13.50" rx="1.2"/><rect x="226.00" y="213.00" width="13.33" height="13.50" rx="1.2"/><rect x="240.33" y="213.00" width="13.33" height="13.50" rx="1.2"/><rect x="254.67" y="213.00" width="13.33" height="13.50" rx="1.2"/><rect x="269.00" y="213.00" width="13.33" height="13.50" rx="1.2"/><rect x="283.33" y="213.00" width="13.33" height="13.50" rx="1.2"/><rect x="297.67" y="213.00" width="13.33" height="13.50" rx="1.2"/><rect x="226.00" y="227.50" width="13.33" height="13.50" rx="1.2"/><rect x="240.33" y="227.50" width="13.33" height="13.50" rx="1.2"/><rect x="254.67" y="227.50" width="13.33" height="13.50" rx="1.2"/><rect x="269.00" y="227.50" width="13.33" height="13.50" rx="1.2"/><rect x="283.33" y="227.50" width="13.33" height="13.50" rx="1.2"/><rect x="297.67" y="227.50" width="13.33" height="13.50" rx="1.2"/><rect x="226.00" y="242.00" width="13.33" height="13.50" rx="1.2"/><rect x="240.33" y="242.00" width="13.33" height="13.50" rx="1.2"/><rect x="254.67" y="242.00" width="13.33" height="13.50" rx="1.2"/><rect x="269.00" y="242.00" width="13.33" height="13.50" rx="1.2"/><rect x="283.33" y="242.00" width="13.33" height="13.50" rx="1.2"/><rect x="297.67" y="242.00" width="13.33" height="13.50" rx="1.2"/><rect x="226.00" y="256.50" width="13.33" height="13.50" rx="1.2"/><rect x="240.33" y="256.50" width="13.33" height="13.50" rx="1.2"/><rect x="254.67" y="256.50" width="13.33" height="13.50" rx="1.2"/><rect x="269.00" y="256.50" width="13.33" height="13.50" rx="1.2"/><rect x="283.33" y="256.50" width="13.33" height="13.50" rx="1.2"/><rect x="297.67" y="256.50" width="13.33" height="13.50" rx="1.2"/></g>
<g fill="#565656"><rect x="228.98" y="126" width="0.7" height="144"/><rect x="232.32" y="126" width="0.7" height="144"/><rect x="235.65" y="126" width="0.7" height="144"/><rect x="243.32" y="126" width="0.7" height="144"/><rect x="246.65" y="126" width="0.7" height="144"/><rect x="249.98" y="126" width="0.7" height="144"/><rect x="257.65" y="126" width="0.7" height="144"/><rect x="260.98" y="126" width="0.7" height="144"/><rect x="264.32" y="126" width="0.7" height="144"/><rect x="271.98" y="126" width="0.7" height="144"/><rect x="275.32" y="126" width="0.7" height="144"/><rect x="278.65" y="126" width="0.7" height="144"/><rect x="286.32" y="126" width="0.7" height="144"/><rect x="289.65" y="126" width="0.7" height="144"/><rect x="292.98" y="126" width="0.7" height="144"/><rect x="300.65" y="126" width="0.7" height="144"/><rect x="303.98" y="126" width="0.7" height="144"/><rect x="307.32" y="126" width="0.7" height="144"/></g>
<g fill="#a8a8a8"><rect x="226" y="139.50" width="85" height="1.0"/><rect x="226" y="154.00" width="85" height="1.0"/><rect x="226" y="168.50" width="85" height="1.0"/><rect x="226" y="183.00" width="85" height="1.0"/><rect x="226" y="197.50" width="85" height="1.0"/><rect x="226" y="212.00" width="85" height="1.0"/><rect x="226" y="226.50" width="85" height="1.0"/><rect x="226" y="241.00" width="85" height="1.0"/><rect x="226" y="255.50" width="85" height="1.0"/><rect x="239.33" y="126" width="1.0" height="144"/><rect x="253.67" y="126" width="1.0" height="144"/><rect x="268.00" y="126" width="1.0" height="144"/><rect x="282.33" y="126" width="1.0" height="144"/><rect x="296.67" y="126" width="1.0" height="144"/></g>
<g fill="#ffffff"><circle cx="225.50" cy="125.50" r="1"/><circle cx="239.83" cy="125.50" r="1"/><circle cx="254.17" cy="125.50" r="1"/><circle cx="268.50" cy="125.50" r="1"/><circle cx="282.83" cy="125.50" r="1"/><circle cx="297.17" cy="125.50" r="1"/><circle cx="311.50" cy="125.50" r="1"/><circle cx="225.50" cy="140.00" r="1"/><circle cx="239.83" cy="140.00" r="1"/><circle cx="254.17" cy="140.00" r="1"/><circle cx="268.50" cy="140.00" r="1"/><circle cx="282.83" cy="140.00" r="1"/><circle cx="297.17" cy="140.00" r="1"/><circle cx="311.50" cy="140.00" r="1"/><circle cx="225.50" cy="154.50" r="1"/><circle cx="239.83" cy="154.50" r="1"/><circle cx="254.17" cy="154.50" r="1"/><circle cx="268.50" cy="154.50" r="1"/><circle cx="282.83" cy="154.50" r="1"/><circle cx="297.17" cy="154.50" r="1"/><circle cx="311.50" cy="154.50" r="1"/><circle cx="225.50" cy="169.00" r="1"/><circle cx="239.83" cy="169.00" r="1"/><circle cx="254.17" cy="169.00" r="1"/><circle cx="268.50" cy="169.00" r="1"/><circle cx="282.83" cy="169.00" r="1"/><circle cx="297.17" cy="169.00" r="1"/><circle cx="311.50" cy="169.00" r="1"/><circle cx="225.50" cy="183.50" r="1"/><circle cx="239.83" cy="183.50" r="1"/><circle cx="254.17" cy="183.50" r="1"/><circle cx="268.50" cy="183.50" r="1"/><circle cx="282.83" cy="183.50" r="1"/><circle cx="297.17" cy="183.50" r="1"/><circle cx="311.50" cy="183.50" r="1"/><circle cx="225.50" cy="198.00" r="1"/><circle cx="239.83" cy="198.00" r="1"/><circle cx="254.17" cy="198.00" r="1"/><circle cx="268.50" cy="198.00" r="1"/><circle cx="282.83" cy="198.00" r="1"/><circle cx="297.17" cy="198.00" r="1"/><circle cx="311.50" cy="198.00" r="1"/><circle cx="225.50" cy="212.50" r="1"/><circle cx="239.83" cy="212.50" r="1"/><circle cx="254.17" cy="212.50" r="1"/><circle cx="268.50" cy="212.50" r="1"/><circle cx="282.83" cy="212.50" r="1"/><circle cx="297.17" cy="212.50" r="1"/><circle cx="311.50" cy="212.50" r="1"/><circle cx="225.50" cy="227.00" r="1"/><circle cx="239.83" cy="227.00" r="1"/><circle cx="254.17" cy="227.00" r="1"/><circle cx="268.50" cy="227.00" r="1"/><circle cx="282.83" cy="227.00" r="1"/><circle cx="297.17" cy="227.00" r="1"/><circle cx="311.50" cy="227.00" r="1"/><circle cx="225.50" cy="241.50" r="1"/><circle cx="239.83" cy="241.50" r="1"/><circle cx="254.17" cy="241.50" r="1"/><circle cx="268.50" cy="241.50" r="1"/><circle cx="282.83" cy="241.50" r="1"/><circle cx="297.17" cy="241.50" r="1"/><circle cx="311.50" cy="241.50" r="1"/><circle cx="225.50" cy="256.00" r="1"/><circle cx="239.83" cy="256.00" r="1"/><circle cx="254.17" cy="256.00" r="1"/><circle cx="268.50" cy="256.00" r="1"/><circle cx="282.83" cy="256.00" r="1"/><circle cx="297.17" cy="256.00" r="1"/><circle cx="311.50" cy="256.00" r="1"/><circle cx="225.50" cy="270.50" r="1"/><circle cx="239.83" cy="270.50" r="1"/><circle cx="254.17" cy="270.50" r="1"/><circle cx="268.50" cy="270.50" r="1"/><circle cx="282.83" cy="270.50" r="1"/><circle cx="297.17" cy="270.50" r="1"/><circle cx="311.50" cy="270.50" r="1"/></g>
<g transform="translate(143.8,180.9) scale(0.8,1)"><text x="0" y="0" font-size="12.8" font-weight="bold" fill="#eeeeee" letter-spacing="1.0">Solar</text></g>
<g transform="translate(144.1,195.6) scale(0.8,1)"><text x="0" y="0" font-size="12.8" font-weight="bold" fill="#eeeeee" letter-spacing="0.9">Panel</text></g>
<g transform="translate(252.8,180.9) scale(0.8,1)"><text x="0" y="0" font-size="12.8" font-weight="bold" fill="#eeeeee" letter-spacing="1.0">Solar</text></g>
<g transform="translate(253.1,195.6) scale(0.8,1)"><text x="0" y="0" font-size="12.8" font-weight="bold" fill="#eeeeee" letter-spacing="0.9">Panel</text></g>
<g fill="none" stroke-width="1.4" stroke-linejoin="miter"><path d="M154.5 272 V291 H381.3 V236" stroke="#d42a2a"/><path d="M163.5 272 V283.5 H264.4 V272" stroke="#2c2c2c"/><path d="M275.2 272 V283.5 H375.6 V234" stroke="#2c2c2c"/><path d="M389 237 V302 M389 324 V343" stroke="#d42a2a"/><path d="M396 237 V302 M396 324 V333 H522.2 V343" stroke="#2c2c2c"/><path d="M435.5 343 V338.6 H475.5 V343" stroke="#d42a2a"/><path d="M407.2 234 V243.3 H459.5" stroke="#2c2c2c"/><path d="M401.5 236 V248.7 H459.5" stroke="#d42a2a"/></g>
<rect x="205" y="281.7" width="19" height="3.6" fill="#2a2a2a"/>
<g fill="#2a2a2a"><ellipse cx="206.60" cy="283.5" rx="2.6" ry="2.4"/><ellipse cx="211.87" cy="283.5" rx="2.6" ry="2.4"/><ellipse cx="217.13" cy="283.5" rx="2.6" ry="2.4"/><ellipse cx="222.40" cy="283.5" rx="2.6" ry="2.4"/></g>
<rect x="318" y="281.7" width="19" height="3.6" fill="#2a2a2a"/>
<g fill="#2a2a2a"><ellipse cx="319.60" cy="283.5" rx="2.6" ry="2.4"/><ellipse cx="324.87" cy="283.5" rx="2.6" ry="2.4"/><ellipse cx="330.13" cy="283.5" rx="2.6" ry="2.4"/><ellipse cx="335.40" cy="283.5" rx="2.6" ry="2.4"/></g>
<rect x="318" y="289.2" width="19" height="3.6" fill="#2a2a2a"/>
<g fill="#2a2a2a"><ellipse cx="319.60" cy="291" rx="2.6" ry="2.4"/><ellipse cx="324.87" cy="291" rx="2.6" ry="2.4"/><ellipse cx="330.13" cy="291" rx="2.6" ry="2.4"/><ellipse cx="335.40" cy="291" rx="2.6" ry="2.4"/></g>
<defs><linearGradient id="cbL" x1="0" y1="0" x2="1" y2="0"><stop offset="0" stop-color="#d4d8d4"/><stop offset="1" stop-color="#bcc0bc"/></linearGradient><linearGradient id="cbF" x1="0" y1="0" x2="1" y2="0"><stop offset="0" stop-color="#cfd2cf"/><stop offset="1" stop-color="#c2c6c2"/></linearGradient></defs>
<polygon points="356,170.5 385,168.3 421.4,175 421,233 389,240 358,222" fill="#c8ccc8"/>
<polygon points="356,170.5 384.5,176.5 389,240 358,222" fill="url(#cbL)"/>
<polygon points="384.5,176.5 421.4,175 421,233 389,240" fill="url(#cbF)"/>
<polygon points="356,170.5 385,168.3 421.4,175 384.5,176.5" fill="#dde0dd"/>
<polygon points="385.5,193 421,191 421,197.5 386,200" fill="#e4e6e4"/><polygon points="386,200 421,197.5 421,199.5 386.2,202.5" fill="#aeb2ae"/>
<rect x="392.5" y="180.5" width="15.5" height="8.5" fill="#1a1a1a" transform="skewY(-2)" transform-origin="392 180"/>
<rect x="394.5" y="182.5" width="11.5" height="4.5" fill="#5a8a40" transform="skewY(-2)" transform-origin="392 180"/>
<rect x="415" y="179.5" width="4" height="5" fill="#303030"/><rect x="415.8" y="180.3" width="2.4" height="3.4" fill="#d03020"/>
<g fill="#3a3c3a"><rect x="408.3" y="205.5" width="4.2" height="1.0"/><rect x="408.3" y="207.5" width="4.2" height="1.0"/><rect x="408.3" y="209.5" width="4.2" height="1.0"/><rect x="408.3" y="211.5" width="4.2" height="1.0"/><rect x="408.3" y="213.5" width="4.2" height="1.0"/><rect x="408.3" y="215.5" width="4.2" height="1.0"/><rect x="408.3" y="217.5" width="4.2" height="1.0"/><rect x="408.3" y="219.5" width="4.2" height="1.0"/><rect x="408.3" y="221.5" width="4.2" height="1.0"/><rect x="408.3" y="223.5" width="4.2" height="1.0"/><rect x="408.3" y="225.5" width="4.2" height="1.0"/><rect x="414.8" y="204.5" width="4.2" height="1.0"/><rect x="414.8" y="206.5" width="4.2" height="1.0"/><rect x="414.8" y="208.5" width="4.2" height="1.0"/><rect x="414.8" y="210.5" width="4.2" height="1.0"/><rect x="414.8" y="212.5" width="4.2" height="1.0"/><rect x="414.8" y="214.5" width="4.2" height="1.0"/><rect x="414.8" y="216.5" width="4.2" height="1.0"/><rect x="414.8" y="218.5" width="4.2" height="1.0"/><rect x="414.8" y="220.5" width="4.2" height="1.0"/><rect x="414.8" y="222.5" width="4.2" height="1.0"/><rect x="414.8" y="224.5" width="4.2" height="1.0"/></g>
<g fill="#8a8e8a"><rect x="360.5" y="199.0" width="5.5" height="0.7"/><rect x="374.5" y="206.0" width="6.5" height="0.8"/><rect x="360.5" y="200.3" width="5.5" height="0.7"/><rect x="374.5" y="207.4" width="6.5" height="0.8"/><rect x="360.5" y="201.6" width="5.5" height="0.7"/><rect x="374.5" y="208.8" width="6.5" height="0.8"/><rect x="360.5" y="202.9" width="5.5" height="0.7"/><rect x="374.5" y="210.2" width="6.5" height="0.8"/><rect x="360.5" y="205.2" width="5.5" height="0.7"/><rect x="374.5" y="212.2" width="6.5" height="0.8"/><rect x="360.5" y="206.5" width="5.5" height="0.7"/><rect x="374.5" y="213.6" width="6.5" height="0.8"/><rect x="360.5" y="207.8" width="5.5" height="0.7"/><rect x="374.5" y="215.0" width="6.5" height="0.8"/><rect x="360.5" y="209.1" width="5.5" height="0.7"/><rect x="374.5" y="216.4" width="6.5" height="0.8"/><rect x="360.5" y="211.4" width="5.5" height="0.7"/><rect x="374.5" y="218.4" width="6.5" height="0.8"/><rect x="360.5" y="212.7" width="5.5" height="0.7"/><rect x="374.5" y="219.8" width="6.5" height="0.8"/><rect x="360.5" y="214.0" width="5.5" height="0.7"/><rect x="374.5" y="221.2" width="6.5" height="0.8"/><rect x="360.5" y="215.3" width="5.5" height="0.7"/><rect x="374.5" y="222.6" width="6.5" height="0.8"/></g>
<polygon points="461.88,255.48 501.03,276.41 540.19,256.15 501.71,238.60" fill="#9fd36a"/>
<polygon points="464.58,236.58 480.78,224.83 503.06,256.42 503.06,271.01 464.58,253.45" fill="#f3e9dc"/>
<polygon points="503.06,256.15 536.81,241.30 536.81,254.13 503.06,271.01" fill="#ecdfcf"/>
<polygon points="464.58,251.43 503.06,268.31 503.06,271.68 464.58,254.80" fill="#5f5f5f"/>
<polygon points="503.06,268.31 536.81,252.37 536.81,255.07 503.06,271.68" fill="#6b6b6b"/>
<polygon points="461.20,235.90 480.78,224.42 482.13,227.12 465.25,236.58" fill="#b02418"/>
<polygon points="480.78,224.42 516.56,214.30 539.51,239.95 503.06,256.15" fill="#e2382a"/>
<polygon points="539.51,239.95 503.06,256.15 502.38,257.50 539.78,241.03" fill="#a82418"/>
<polygon points="478.08,246.70 484.83,247.38 484.83,264.26 478.08,261.55" fill="#e8901e" stroke="#b06010" stroke-width="0.5"/>
<polygon points="466.60,241.98 475.38,244.68 475.38,252.10 466.60,249.40" fill="#bfe3f2" stroke="#8a8a8a" stroke-width="0.8"/>
<polygon points="488.21,250.75 496.31,253.45 496.31,260.88 488.21,258.18" fill="#bfe3f2" stroke="#8a8a8a" stroke-width="0.8"/>
<polygon points="506.43,254.80 514.54,252.78 514.54,260.20 506.43,262.23" fill="#bfe3f2" stroke="#8a8a8a" stroke-width="0.8"/>
<polygon points="524.66,246.70 532.76,244.00 532.76,251.43 524.66,254.13" fill="#bfe3f2" stroke="#8a8a8a" stroke-width="0.8"/>
<text x="468.5" y="207.6" font-size="10.8" fill="#434d59" textLength="86" lengthAdjust="spacingAndGlyphs">Home appliances</text>
<rect x="384.1" y="302.1" width="7.6" height="22" fill="#2a2a2a" rx="0.8"/>
<rect x="385.40000000000003" y="303.5" width="5" height="19" fill="#d8d8d8"/>
<circle cx="387.90000000000003" cy="305.5" r="1.2" fill="#b09060"/><circle cx="387.90000000000003" cy="320.5" r="1.2" fill="#b09060"/>
<rect x="393.2" y="302.1" width="7.6" height="22" fill="#2a2a2a" rx="0.8"/>
<rect x="394.5" y="303.5" width="5" height="19" fill="#d8d8d8"/>
<circle cx="397.0" cy="305.5" r="1.2" fill="#b09060"/><circle cx="397.0" cy="320.5" r="1.2" fill="#b09060"/>
<rect x="385.5" y="342.6" width="7" height="2.8" fill="#8a8a8a"/><rect x="432.5" y="342.6" width="7" height="2.8" fill="#8a8a8a"/>
<rect x="381" y="349" width="66" height="42.3" fill="#c9c3be"/>
<rect x="382" y="388.5" width="65" height="2.8" fill="#b5afa9"/>
<rect x="381" y="345" width="65.6" height="4.8" fill="#2b4576" rx="0.8"/>
<text x="386.2" y="357" font-size="9" fill="#333">+</text><rect x="434" y="353" width="5" height="0.9" fill="#555"/>
<text x="395.5" y="372.4" font-size="12.8" font-weight="bold" fill="#1a1a1a" textLength="39.2" lengthAdjust="spacingAndGlyphs">Battery</text>
<rect x="470.9" y="342.6" width="7" height="2.8" fill="#8a8a8a"/><rect x="517.9" y="342.6" width="7" height="2.8" fill="#8a8a8a"/>
<rect x="466.4" y="349" width="66" height="42.3" fill="#c9c3be"/>
<rect x="467.4" y="388.5" width="65" height="2.8" fill="#b5afa9"/>
<rect x="466.4" y="345" width="65.6" height="4.8" fill="#2b4576" rx="0.8"/>
<text x="471.59999999999997" y="357" font-size="9" fill="#333">+</text><rect x="519.4" y="353" width="5" height="0.9" fill="#555"/>
<text x="481.5" y="372.4" font-size="12.8" font-weight="bold" fill="#1a1a1a" textLength="39.2" lengthAdjust="spacingAndGlyphs">Battery</text>
</svg>
</body></html>
